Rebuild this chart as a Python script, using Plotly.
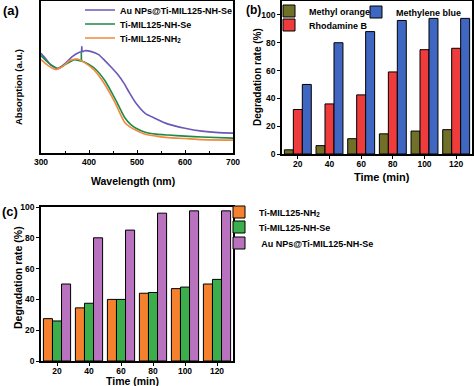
import plotly.graph_objects as go

W, H = 474, 386

# ---------- Panel (a) data: absorption spectra ----------
wl_au = [300, 310, 320, 335, 350, 365, 380, 384, 385, 386, 391, 405, 420, 433, 445, 460, 473, 485, 498, 517, 537, 565, 600, 635, 670, 700]
abs_au = [0.656, 0.62, 0.58, 0.556, 0.588, 0.634, 0.663, 0.666, 0.70, 0.667, 0.673, 0.667, 0.647, 0.608, 0.569, 0.516, 0.458, 0.392, 0.327, 0.261, 0.229, 0.190, 0.163, 0.144, 0.134, 0.131]

wl_se = [300, 315, 335, 350, 370, 383, 384, 385, 391, 412, 433, 454, 474, 486, 498, 517, 540, 565, 600, 635, 700]
abs_se = [0.641, 0.595, 0.556, 0.582, 0.614, 0.606, 0.66, 0.605, 0.597, 0.556, 0.477, 0.359, 0.235, 0.19, 0.163, 0.137, 0.124, 0.118, 0.111, 0.105, 0.098]

wl_nh2 = [300, 315, 330, 345, 360, 375, 391, 412, 433, 454, 474, 486, 498, 517, 540, 565, 600, 635, 700]
abs_nh2 = [0.614, 0.575, 0.549, 0.569, 0.608, 0.618, 0.595, 0.542, 0.451, 0.333, 0.203, 0.17, 0.150, 0.124, 0.111, 0.101, 0.095, 0.088, 0.085]

# ---------- Panel (b) data ----------
times = ["20", "40", "60", "80", "100", "120"]
methyl_orange = [3, 6, 11, 14.5, 16.5, 17.5]
rhodamine_b = [32, 36, 42.5, 59, 75, 76]
methylene_blue = [50, 80, 88, 96, 97.5, 97.5]

# ---------- Panel (c) data ----------
ti_nh2 = [27.5, 34.5, 40, 44, 47, 50]
ti_nhse = [26, 37.5, 40, 44.5, 48, 53]
au_nhse = [50, 80, 85, 96, 97.5, 97.5]

FONT = "Liberation Sans, Arial, sans-serif"

def px_x(x):
    return x / W

def px_y(y):
    return 1 - y / H

fig = go.Figure()

# Panel (a)
fig.add_trace(go.Scatter(x=wl_au, y=abs_au, mode="lines", name="Au NPs@Ti-MIL125-NH-Se",
                         line=dict(color="#6a58b8", width=1.6, shape="spline", smoothing=0.6),
                         xaxis="x", yaxis="y", legend="legend"))
fig.add_trace(go.Scatter(x=wl_se, y=abs_se, mode="lines", name="Ti-MIL125-NH-Se",
                         line=dict(color="#1f8a48", width=1.6, shape="spline", smoothing=0.6),
                         xaxis="x", yaxis="y", legend="legend2"))
fig.add_trace(go.Scatter(x=wl_nh2, y=abs_nh2, mode="lines", name="Ti-MIL125-NH<sub>2</sub>",
                         line=dict(color="#f08a3c", width=1.6, shape="spline", smoothing=0.6),
                         xaxis="x", yaxis="y", legend="legend3"))

# Panel (b)
bar_line = dict(color="black", width=1)
fig.add_trace(go.Bar(x=times, y=methyl_orange, name="Methyl orange", marker=dict(color="#707028", line=bar_line),
                     xaxis="x2", yaxis="y2", legend="legend4"))
fig.add_trace(go.Bar(x=times, y=rhodamine_b, name="Rhodamine B", marker=dict(color="#ee3b3b", line=bar_line),
                     xaxis="x2", yaxis="y2", legend="legend5"))
fig.add_trace(go.Bar(x=times, y=methylene_blue, name="Methylene blue", marker=dict(color="#3f66c0", line=bar_line),
                     xaxis="x2", yaxis="y2", legend="legend6"))

# Panel (c)
fig.add_trace(go.Bar(x=times, y=ti_nh2, name="Ti-MIL125-NH<sub>2</sub>", marker=dict(color="#f5812e", line=bar_line),
                     xaxis="x3", yaxis="y3", legend="legend7"))
fig.add_trace(go.Bar(x=times, y=ti_nhse, name="Ti-MIL125-NH-Se", marker=dict(color="#3cae4c", line=bar_line),
                     xaxis="x3", yaxis="y3", legend="legend8"))
fig.add_trace(go.Bar(x=times, y=au_nhse, name=" Au NPs@Ti-MIL125-NH-Se", marker=dict(color="#b872be", line=bar_line),
                     xaxis="x3", yaxis="y3", legend="legend9"))

tickfont = dict(family=FONT, size=8.5, color="black", weight="bold")
axis_common = dict(showline=True, linecolor="black", linewidth=1.6, mirror=True, showgrid=False, zeroline=False,
                   tickfont=tickfont, tickcolor="black", automargin=False)

legfont = dict(family=FONT, size=9, color="black", weight="bold")

def leg(x, y):
    return dict(x=px_x(x), y=px_y(y), xanchor="left", yanchor="middle", bgcolor="rgba(0,0,0,0)",
                font=legfont, tracegroupgap=0, orientation="v")

fig.update_layout(
    width=W, height=H, margin=dict(l=0, r=0, t=0, b=0, autoexpand=False),
    paper_bgcolor="white", plot_bgcolor="white",
    barmode="group", bargap=0.15, bargroupgap=0,
    showlegend=True,
    xaxis=dict(domain=[px_x(41), px_x(233)], range=[300, 700], tickvals=[300, 400, 500, 600, 700],
               ticks="inside", ticklen=3, anchor="y",
               minor=dict(tickvals=[350, 450, 550, 650], ticks="inside", ticklen=2, tickcolor="black"),
               **axis_common),
    yaxis=dict(domain=[px_y(153), px_y(1)], range=[0, 1.0], showticklabels=False, ticks="", anchor="x",
               **axis_common),
    xaxis2=dict(domain=[px_x(282), px_x(472)], type="category", ticks="outside", ticklen=3, anchor="y2",
                ticklabelstandoff=-2, **axis_common),
    yaxis2=dict(domain=[px_y(154), px_y(1)], range=[0, 110], tickvals=[0, 20, 40, 60, 80, 100],
                ticks="outside", ticklen=3, anchor="x2", **axis_common),
    xaxis3=dict(domain=[px_x(41), px_x(233)], type="category", ticks="outside", ticklen=3, anchor="y3",
                ticklabelstandoff=-2, **axis_common),
    yaxis3=dict(domain=[px_y(361), px_y(207)], range=[0, 100], tickvals=[0, 20, 40, 60, 80, 100],
                ticks="outside", ticklen=3, anchor="x3", **axis_common),
    legend=leg(80, 10),
    legend2=leg(80, 24),
    legend3=leg(80, 38),
    legend4=leg(269, 11),
    legend5=leg(269, 25),
    legend6=leg(356, 12),
    legend7=leg(219, 212),
    legend8=leg(219, 227),
    legend9=leg(219, 243),
)

title_font = dict(family=FONT, size=10.5, color="black", weight="bold")
label_font = dict(family=FONT, size=13, color="black", weight="bold")
ann = [
    dict(text="Wavelength (nm)", x=px_x(133), y=px_y(181), font=title_font),
    dict(text="Absorption (a.u.)", x=px_x(18), y=px_y(87), font=dict(title_font, size=9.5), textangle=-90),
    dict(text="Time (min)", x=px_x(382), y=px_y(177), font=dict(title_font, size=11)),
    dict(text="Degradation rate (%)", x=px_x(257), y=px_y(77), font=dict(title_font, size=10), textangle=-90),
    dict(text="Time (min)", x=px_x(132), y=px_y(380.5), font=dict(title_font, size=10.5)),
    dict(text="Degradation rate (%)", x=px_x(18), y=px_y(278), font=dict(title_font, size=10.5), textangle=-90),
    dict(text="(a)", x=px_x(11), y=px_y(11), font=label_font),
    dict(text="(b)", x=px_x(253), y=px_y(10), font=dict(label_font, size=12)),
    dict(text="(c)", x=px_x(10), y=px_y(211), font=label_font),
]
for a in ann:
    a.update(xref="paper", yref="paper", showarrow=False, xanchor="center", yanchor="middle")
fig.update_layout(annotations=ann)

fig.write_html("out.html", config={"displayModeBar": False},
               post_script="document.body.style.margin='0';document.body.style.overflow='hidden';")
